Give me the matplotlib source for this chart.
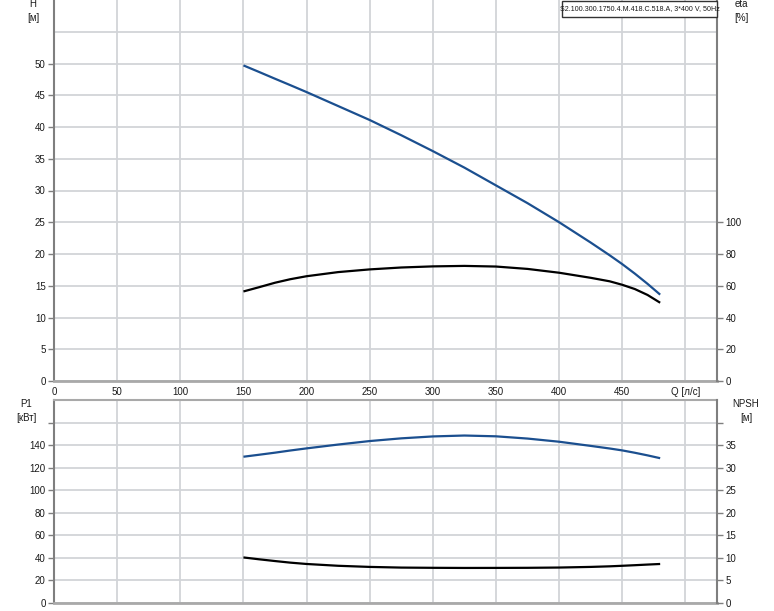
import matplotlib
matplotlib.use("Agg")
import matplotlib.pyplot as plt
from matplotlib.patches import Rectangle

plt.rcParams['font.family'] = ['Liberation Sans', 'DejaVu Sans']

q = [150, 162, 175, 187, 200, 225, 250, 275, 300, 325, 350, 375, 400, 425, 440, 450, 460, 470, 480]
head = [49.7, 48.7, 47.6, 46.6, 45.5, 43.3, 41.1, 38.7, 36.2, 33.6, 30.8, 28.0, 25.0, 21.8, 19.8, 18.4, 16.9, 15.3, 13.6]
eta = [56.4, 59.0, 61.9, 64.1, 66.0, 68.6, 70.3, 71.5, 72.2, 72.5, 72.1, 70.6, 68.2, 65.0, 62.8, 60.6, 57.9, 54.2, 49.3]
p1 = [129.7, 131.4, 133.3, 135.2, 137.1, 140.5, 143.6, 146.0, 147.7, 148.5, 147.8, 145.8, 143.0, 139.3, 137.0, 135.3, 133.2, 130.9, 128.4]
npsh = [10.1, 9.7, 9.3, 8.95, 8.65, 8.25, 8.0, 7.85, 7.8, 7.77, 7.78, 7.8, 7.86, 8.0, 8.13, 8.25, 8.38, 8.52, 8.65]

q_ticks = [0, 50, 100, 150, 200, 250, 300, 350, 400, 450, 500]
q_labels = ["0", "50", "100", "150", "200", "250", "300", "350", "400", "450", "Q [л/с]"]
h_ticks = [0, 5, 10, 15, 20, 25, 30, 35, 40, 45, 50]
eta_ticks = [0, 20, 40, 60, 80, 100]
p1_ticks = [0, 20, 40, 60, 80, 100, 120, 140, 160]
npsh_ticks = [0, 5, 10, 15, 20, 25, 30, 35, 40]
title = "S2.100.300.1750.4.M.418.C.518.A, 3*400 V, 50Hz"

blue = "#1b4f8f"
grid_c = "#d2d4d8"
spine_c = "#7f7f7f"
txt = "#1a1a1a"
fs = 7
W, H = 774, 611

fig = plt.figure(figsize=(W / 100, H / 100), dpi=100)

def fx(px):
    return px / W

def fy(py):
    return 1 - py / H

ax1 = fig.add_axes([fx(54), fy(381), fx(717) - fx(54), fy(0) - fy(381)])
ax2 = fig.add_axes([fx(54), fy(603), fx(717) - fx(54), fy(400) - fy(603)])
ax1r = ax1.twinx()
ax2r = ax2.twinx()

def style(ax, axr, top_spine, show_xlabels):
    ax.set_xlim(0, 525)
    ax.set_xticks(q_ticks)
    ax.grid(True, color=grid_c, lw=1.3)
    ax.set_axisbelow(True)
    for s in ["left", "right", "top", "bottom"]:
        ax.spines[s].set_visible(False)
        axr.spines[s].set_visible(False)
    ax.spines["left"].set_visible(True)
    ax.spines["left"].set_color(spine_c)
    ax.spines["left"].set_linewidth(1.5)
    axr.spines["right"].set_visible(True)
    axr.spines["right"].set_color(spine_c)
    axr.spines["right"].set_linewidth(1.5)
    ax.spines["bottom"].set_visible(True)
    ax.spines["bottom"].set_color("#a9a9a9")
    ax.spines["bottom"].set_linewidth(2)
    if top_spine:
        ax.spines["top"].set_visible(True)
        ax.spines["top"].set_color("#a9a9a9")
        ax.spines["top"].set_linewidth(1.5)
    ax.tick_params(axis="y", direction="out", length=4, width=1, color=spine_c,
                   labelsize=fs, labelcolor=txt, pad=2)
    axr.tick_params(axis="y", direction="out", length=4, width=1, color=spine_c,
                    labelsize=fs, labelcolor=txt, pad=2)
    ax.tick_params(axis="x", length=0, labelsize=fs, labelcolor=txt, pad=4)
    if show_xlabels:
        ax.set_xticklabels(q_labels)
    else:
        ax.set_xticklabels([])

# upper chart: head and efficiency
style(ax1, ax1r, False, True)
ax1.set_ylim(0, 60)
ax1.set_yticks(h_ticks)
ax1.axhline(55, color=grid_c, lw=1.3, zorder=0)
ax1r.set_ylim(0, 240)
ax1r.set_yticks(eta_ticks)
ax1.plot(q, head, color=blue, lw=1.6, solid_capstyle="butt", zorder=3)
ax1r.plot(q, eta, color="black", lw=1.6, solid_capstyle="butt", zorder=3)

# lower chart: power and NPSH
style(ax2, ax2r, True, False)
ax2.set_ylim(0, 180)
ax2.set_yticks(p1_ticks)
ax2.set_yticklabels([str(v) for v in p1_ticks[:-1]] + [""])
ax2r.set_ylim(0, 45)
ax2r.set_yticks(npsh_ticks)
ax2r.set_yticklabels([str(v) for v in npsh_ticks[:-1]] + [""])
ax2.plot(q, p1, color=blue, lw=1.6, solid_capstyle="butt", zorder=3)
ax2r.plot(q, npsh, color="black", lw=1.6, solid_capstyle="butt", zorder=3)

# axis captions
cap = dict(ha="center", va="center", fontsize=fs, color=txt, linespacing=1.45)
fig.text(fx(33), fy(11), "H\n[м]", **cap)
fig.text(fx(741), fy(11), "eta\n[%]", **cap)
fig.text(fx(26), fy(411), "P1\n[кВт]", **cap)
fig.text(fx(746), fy(411), "NPSH\n[м]", **cap)

# model label box
fig.patches.append(Rectangle((fx(562), fy(17)), fx(717) - fx(562), fy(1) - fy(17),
                             transform=fig.transFigure, fc="white", ec="#333333",
                             lw=1, zorder=5))
fig.text(fx(639.5), fy(9), title, ha="center", va="center", fontsize=5.1,
         color=txt, zorder=6)

fig.savefig("out.png", dpi=100)
